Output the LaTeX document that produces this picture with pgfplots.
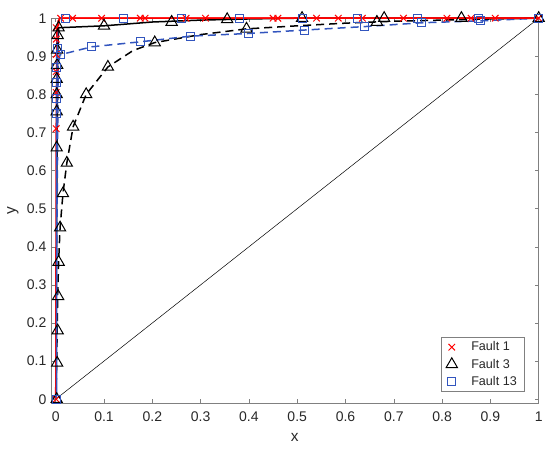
\documentclass[border=0pt]{standalone}
\usepackage{fontspec}
\setmainfont{Liberation Sans}
\usepackage{pgfplots}
\pgfplotsset{compat=1.18}
\definecolor{mblue}{RGB}{50,85,190}
\definecolor{mred}{RGB}{255,0,0}
\definecolor{axgray}{RGB}{128,128,128}
\definecolor{txtgray}{RGB}{40,40,40}
\begin{document}
\begin{tikzpicture}
\begin{axis}[
  scale only axis, width=487.8pt, height=384.8pt,
  xmin=-0.01, xmax=1, ymin=-0.01, ymax=1,
  clip=false,
  xtick={0,0.1,0.2,0.3,0.4,0.5,0.6,0.7,0.8,0.9,1},
  ytick={0,0.1,0.2,0.3,0.4,0.5,0.6,0.7,0.8,0.9,1},
  tick align=inside, major tick length=4pt,
  axis line style={axgray, line width=0.5pt},
  tick style={axgray, line width=0.5pt},
  ticklabel style={font=\fontsize{14}{16}\selectfont, text=txtgray},
  /pgf/number format/assume math mode=true,
  xticklabel shift=5pt, yticklabel shift=1pt,
  xlabel={x}, ylabel={y},
  every axis x label/.style={at={(axis description cs:0.5,0)}, anchor=center, yshift=-34pt, font=\fontsize{15.4}{17}\selectfont, text=txtgray},
  every axis y label/.style={at={(axis description cs:0,0.5)}, anchor=center, xshift=-38pt, rotate=90, font=\fontsize{15.4}{17}\selectfont, text=txtgray},
  legend style={
    at={(axis description cs:0.970,0.0286)}, anchor=south east,
    draw=axgray, line width=0.5pt, fill=white,
    font=\fontsize{12.6}{14}\selectfont, text=txtgray,
    inner xsep=5pt, inner ysep=3pt, row sep=2.5pt,
    cells={anchor=west},
  },
  legend image code/.code={\draw[#1,draw=none,mark repeat=2,mark phase=2] plot coordinates {(0pt,0pt)(5.5pt,0pt)(23pt,0pt)};},
]
% diagonal
\addplot[black, line width=0.5pt, forget plot] coordinates {(0,0) (1,1)};
% Fault 3, method B (dashed)
\addplot[black, line width=1.5pt, dash pattern=on 8pt off 5pt, forget plot] coordinates {
(0,0) (0.002,0.095) (0.003,0.18) (0.004,0.27) (0.006,0.36) (0.009,0.45) (0.015,0.54)
(0.023,0.62) (0.036,0.715) (0.063,0.80) (0.108,0.872) (0.16,0.915) (0.205,0.936)
(0.3,0.957) (0.395,0.972) (0.5,0.98) (0.6,0.987) (0.7,0.992) (0.8,0.995) (0.9,0.998) (1,1)};
% Fault 3, method A (solid)
\addplot[black, line width=1.5pt, forget plot] coordinates {
(0,0) (0.002,0.5) (0.004,0.9) (0.006,0.975) (0.1,0.98) (0.2,0.99) (0.3,0.995) (0.4,0.998) (0.5,1) (1,1)};
% Fault 13, method B (dashed)
\addplot[mblue, line width=1.5pt, dash pattern=on 8pt off 5pt, forget plot] coordinates {
(0,0) (0.003,0.5) (0.005,0.88) (0.009,0.904) (0.075,0.925) (0.175,0.938) (0.28,0.953)
(0.40,0.96) (0.516,0.969) (0.64,0.978) (0.758,0.988) (0.88,0.993) (1,1)};
% Fault 1 (solid)
\addplot[mred, line width=1.5pt, forget plot] coordinates {
(0,0) (0.001,0.71) (0.002,0.9) (0.003,0.975) (0.008,1) (1,1)};
% Fault 13, method A (solid)
\addplot[mblue, line width=1.5pt, forget plot] coordinates {
(0,0) (0.002,0.01) (0.002,0.75) (0.003,0.9) (0.004,0.97)};
% Fault 1 top segment again (on top)
\addplot[mred, line width=1.5pt, forget plot] coordinates {
(0.002,0.95) (0.003,0.975) (0.008,1) (1,1)};
% markers
\addplot[color=mred, draw=none, mark=x, mark size=4.6pt, mark options={draw=mred, line width=1pt, solid}] coordinates {
(0.001,0) (0.001,0.71) (0.001,0.805) (0.001,0.86) (0.001,0.905) (0.001,0.945) (0.001,0.975)
(0.01,1) (0.035,1) (0.095,1) (0.175,1) (0.185,1) (0.27,1) (0.31,1) (0.45,1) (0.46,1)
(0.54,1) (0.585,1) (0.635,1) (0.72,1) (0.81,1) (0.86,1) (0.91,1) (1,1)};
\addlegendentry{Fault 1}
\addplot[color=black, draw=none, mark=triangle, mark size=6.5pt, mark options={draw=black, line width=1pt, solid}] coordinates {
(0.002,0) (0.002,0.66) (0.002,0.755) (0.002,0.80) (0.002,0.84) (0.003,0.877) (0.003,0.917) (0.004,0.955) (0.006,0.975)
(0.1,0.98) (0.24,0.99) (0.355,0.997) (0.51,1) (0.68,1) (0.84,1) (1,1)
(0.003,0.095) (0.004,0.18) (0.005,0.27) (0.006,0.36) (0.009,0.45) (0.015,0.54) (0.023,0.62)
(0.036,0.715) (0.063,0.80) (0.108,0.872) (0.205,0.936) (0.395,0.972) (0.665,0.99)};
\addlegendentry{Fault 3}
\addplot[color=mblue, draw=none, mark=square, mark size=4pt, mark options={draw=mblue, line width=1pt, solid}] coordinates {
(0.002,0) (0.002,0.75) (0.002,0.79) (0.002,0.83) (0.002,0.87) (0.003,0.92)
(0.02,1) (0.14,1) (0.26,1) (0.38,1) (0.51,1) (0.625,1) (0.75,1) (0.875,1) (1,1)
(0.009,0.904) (0.075,0.925) (0.175,0.938) (0.28,0.953) (0.40,0.96) (0.516,0.969)
(0.64,0.978) (0.758,0.988) (0.88,0.993)};
\addlegendentry{Fault 13}
\end{axis}
\pgfresetboundingbox
\path[use as bounding box] (current axis.south west) ++(-50.9pt,-48pt) rectangle ++(550pt,451pt);
\end{tikzpicture}
\end{document}
